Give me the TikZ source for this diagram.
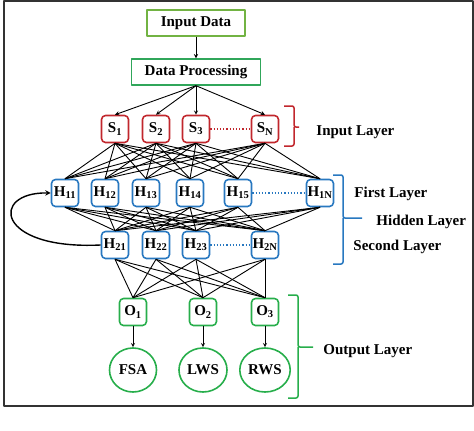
\documentclass[tikz,border=0pt]{standalone}
\usepackage{fontspec}
\setmainfont{Liberation Serif}
\usetikzlibrary{shapes.geometric}
\definecolor{igreen}{HTML}{72B343}
\definecolor{pgreen}{HTML}{30A65A}
\definecolor{sred}{HTML}{C1272D}
\definecolor{hblue}{HTML}{2878C0}
\definecolor{ogreen}{HTML}{27AE4B}
\tikzset{box/.style={draw,line width=1.4pt,minimum height=26pt,inner sep=2pt},
neuron/.style={draw,line width=1.6pt,rounded corners=4pt,minimum size=27pt,inner sep=1pt},
result/.style={draw=ogreen,ellipse,line width=1.6pt,minimum width=47pt,minimum height=44pt,inner sep=1pt},
lbl/.style={anchor=west,inner sep=0pt},
brace/.style={line width=1.5pt,rounded corners=2pt}}
\begin{document}
\begin{tikzpicture}[x=1pt,y=-1pt,font=\fontsize{15}{18}\selectfont\bfseries,line join=round,>=stealth,line width=0.9pt]
\useasboundingbox(0,0)rectangle(474,431);
\draw[line width=1.6pt,black!80](4,1)rectangle(473,406);
% boxes
\node[box,draw=igreen,minimum width=98pt](in)at(196,23){Input Data};
\node[box,draw=pgreen,minimum width=129pt](dp)at(196,72){Data Processing};
\foreach \n/\x in{1/115,2/156,3/196,N/265}
\node[neuron,draw=sred](s\n)at(\x,129){S\textsubscript{\n}};
\foreach \n/\x in{1/65,2/105,3/146,4/190,5/238,N/320}
\node[neuron,draw=hblue](ha\n)at(\x,193){H\textsubscript{1\n}};
\foreach \n/\x in{1/115,2/156,3/196,N/265}
\node[neuron,draw=hblue](hb\n)at(\x,245){H\textsubscript{2\n}};
\foreach \n/\x/\t in{1/133/FSA,2/203/LWS,3/265/RWS}{
\node[neuron,draw=ogreen](o\n)at(\x,312){O\textsubscript{\n}};
\node[result](r\n)at(\x,370){\t};}
% connections
\draw[->](in)--(dp);
\foreach \n in{1,2,3,N}\draw[->](dp.south)--(s\n.north);
\foreach \i in{1,2,3,N}\foreach \j in{1,2,3,4,5,N}\draw(s\i.south)--(ha\j.north);
\foreach \i in{1,2,3,4,5,N}\foreach \j in{1,2,3,N}\draw(ha\i.south)--(hb\j.north);
\foreach \i in{1,2,3,N}\foreach \j in{1,2,3}\draw(hb\i.south)--(o\j.north);
\foreach \n in{1,2,3}\draw[->](o\n)--(r\n);
\draw[sred,dotted,line width=1.2pt](s3)--(sN);
\draw[hblue,dotted,line width=1.2pt](ha5)--(haN);
\draw[hblue,dotted,line width=1.2pt](hb3)--(hbN);
\draw[->,line width=1.4pt](hb1.west)..controls(-5,250)and(-10,192)..(ha1.west);
% layer braces
\draw[brace,sred](284,106)-|(294,127)--(299,127)(294,127)|-(284,146);
\draw[brace,hblue](333,175)-|(343,218)--(362,218)(343,218)|-(333,264);
\draw[brace,ogreen](288,295)-|(298,347)--(313,347)(298,347)|-(288,398);
\node[lbl](il)at(316,132){Input Layer};
\node[lbl](fl)at(354,194){First Layer};
\node[lbl](hl)at(376,222){Hidden Layer};
\node[lbl](sl)at(353,247){Second Layer};
\node[lbl](ol)at(323,351){Output Layer};
\end{tikzpicture}
\end{document}
